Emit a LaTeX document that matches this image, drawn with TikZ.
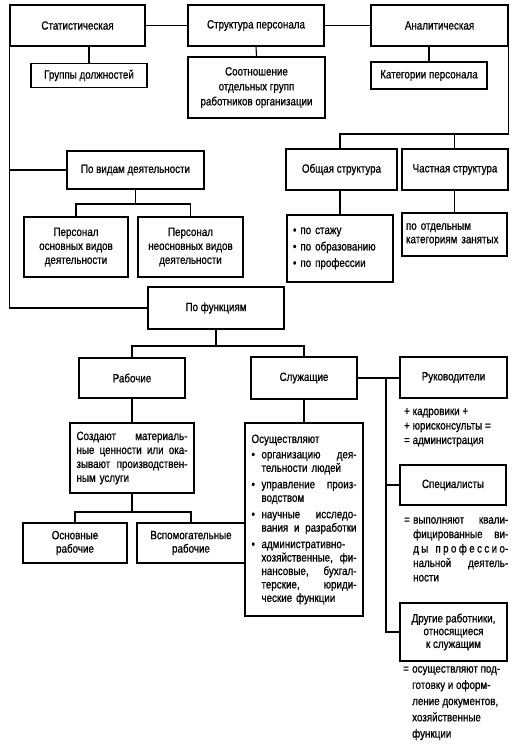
\documentclass[tikz,border=0pt]{standalone}
\usepackage{fontspec}
\setmainfont[FakeStretch=0.82,FakeBold=0.8]{Liberation Sans}
\newcommand\fsz{\fontsize{12}{14}\selectfont}
\newcommand\jl[2]{\leavevmode\hbox to #1{#2}}
\begin{document}
\begin{tikzpicture}[x=1bp,y=-1bp]
\tikzset{
  box/.style={draw, line width=1.1bp, inner sep=0pt, align=center, font=\fsz},
  ln/.style={line width=1.1bp},
  txt/.style={inner sep=0pt, align=left, font=\fsz},
}
\fill[white] (0,0) rectangle (515,745);
\useasboundingbox (0,0) rectangle (515,745);

\node[box, minimum width=135bp, minimum height=41bp] (stat) at (77.5,25.5) {Статистическая};
\node[box, minimum width=136bp, minimum height=41bp] (struct) at (256,25.5) {Структура персонала};
\node[box, minimum width=137bp, minimum height=41bp] (anal) at (439.5,25.5) {Аналитическая};
\node[box, minimum width=116bp, minimum height=24bp] (grp) at (89,75.5) {Группы должностей};
\node[box, minimum width=137bp, minimum height=61bp, font=\fontsize{12}{15}\selectfont] (sootn) at (256.5,87.5) {Соотношение\\отдельных групп\\работников организации};
\node[box, minimum width=116bp, minimum height=27bp] (kateg) at (429,75.5) {Категории персонала};
\node[box, minimum width=137bp, minimum height=38bp] (vidy) at (135.5,170) {По видам деятельности};
\node[box, minimum width=104bp, minimum height=60bp] (pers1) at (76,247) {Персонал\\основных видов\\деятельности};
\node[box, minimum width=105bp, minimum height=60bp] (pers2) at (190.5,247) {Персонал\\неосновных видов\\деятельности};
\node[box, minimum width=111bp, minimum height=41bp] (obsh) at (341.5,169.5) {Общая структура};
\node[box, minimum width=106bp, minimum height=41bp] (chast) at (455,169.5) {Частная структура};
\node[box, minimum width=106bp, minimum height=67bp, text width=94bp, align=left, font=\fontsize{12}{16.5}\selectfont] (obshl) at (340,248.5) {• по стажу\\• по образованию\\• по профессии};
\node[box, minimum width=105bp, minimum height=43bp, text width=97bp, align=left, font=\fontsize{12}{13.5}\selectfont] (chastl) at (454.5,234.5) {по отдельным\\категориям занятых};

\node[box, minimum width=136bp, minimum height=42bp] (func) at (216,308) {По функциям};
\node[box, minimum width=106bp, minimum height=40bp] (rab) at (132,378) {Рабочие};
\node[box, minimum width=106bp, minimum height=42bp] (sluzh) at (304,378) {Служащие};
\node[box, minimum width=107bp, minimum height=41bp] (ruk) at (453.5,377.5) {Руководители};

\node[box, minimum width=124bp, minimum height=70bp, text width=111bp, align=left] (sozd) at (132,458)
  {\jl{111bp}{Создают\hfill материаль-}\\\jl{111bp}{ные\hfill ценности\hfill или\hfill ока-}\\\jl{111bp}{зывают\hfill производствен-}\\ным услуги};
\node[box, minimum width=104bp, minimum height=40bp, font=\fontsize{12}{13.5}\selectfont] (osn) at (75,543) {Основные\\рабочие};
\node[box, minimum width=108bp, minimum height=40bp, font=\fontsize{12}{13.5}\selectfont] (vsp) at (191,543) {Вспомогательные\\рабочие};

\node[box, minimum width=118bp, minimum height=193bp, text width=105bp, align=left, font=\fontsize{12}{13.5}\selectfont] (osush) at (304,519.5)
  {Осуществляют\\[2bp]
   \makebox[10bp][l]{•}\jl{95bp}{организацию\hfill дея-}\\
   \hspace*{10bp}тельности людей\\[3bp]
   \makebox[10bp][l]{•}\jl{95bp}{управление\hfill произ-}\\
   \hspace*{10bp}водством\\[3bp]
   \makebox[10bp][l]{•}\jl{95bp}{научные\hfill исследо-}\\
   \hspace*{10bp}\jl{95bp}{вания\hfill и\hfill разработки}\\[3bp]
   \makebox[10bp][l]{•}\jl{95bp}{административно-\hfill}\\
   \hspace*{10bp}\jl{95bp}{хозяйственные,\hfill фи-}\\
   \hspace*{10bp}\jl{95bp}{нансовые,\hfill бухгал-}\\
   \hspace*{10bp}\jl{95bp}{терские,\hfill юриди-}\\
   \hspace*{10bp}ческие функции};

\node[box, minimum width=106bp, minimum height=40bp] (spec) at (453,485) {Специалисты};
\node[box, minimum width=107bp, minimum height=58bp, font=\fontsize{12}{12.8}\selectfont] (drug) at (453.5,632) {Другие работники,\\относящиеся\\к служащим};

\node[txt, anchor=north west, font=\fontsize{12}{14.5}\selectfont] (rukt) at (404,408) {+ кадровики +\\+ юрисконсульты =\\= администрация};
\node[txt, anchor=north west, text width=104bp, font=\fontsize{12}{14.5}\selectfont] (spect) at (404,517)
  {\makebox[9bp][l]{=}\jl{95bp}{выполняют\hfill квали-}\\
   \hspace*{9bp}\jl{95bp}{фицированные\hfill ви-}\\
   \hspace*{9bp}\hbox to 95bp{д\hfil ы\hfil\hfil\hfil п\hfil р\hfil о\hfil ф\hfil е\hfil с\hfil с\hfil и\hfil о-}\\
   \hspace*{9bp}\jl{95bp}{нальной\hfill деятель-}\\
   \hspace*{9bp}ности};
\node[txt, anchor=north west, font=\fontsize{12}{16.3}\selectfont] (drugt) at (403,666)
  {\makebox[9bp][l]{=}осуществляют под-\\
   \hspace*{9bp}готовку и оформ-\\
   \hspace*{9bp}ление документов,\\
   \hspace*{9bp}хозяйственные\\
   \hspace*{9bp}функции};

% connectors
\draw[ln] (stat.east) -- (struct.west);
\draw[ln] (struct.east) -- (anal.west);
\draw[ln] (grp.north) -- (grp.north |- stat.south);
\draw[ln] (struct.south) -- (sootn.north);
\draw[ln] (kateg.north) -- (kateg.north |- anal.south);
\draw[ln] (stat.south west) |- (func.west);
\draw[ln] (vidy.west) -- (vidy.west -| stat.south west);
\coordinate (abus) at (0,134);
\draw[ln] (anal.south east) |- (abus -| obshl.north) -- (obsh.north -| obshl.north);
\draw[ln] (chastl.north |- chast.north) -- (chastl.north |- abus);
\draw[ln] (obshl.north) -- (obshl.north |- obsh.south);
\draw[ln] (chastl.north) -- (chastl.north |- chast.south);
\coordinate (vbus) at (0,204);
\draw[ln] (vidy.south) -- (vidy.south |- vbus);
\draw[ln] (pers1.north) |- (vbus -| pers2.north) -- (pers2.north);
\coordinate (fbus) at (0,346);
\draw[ln] (func.south) -- (func.south |- fbus);
\draw[ln] (rab.north) |- (fbus -| sluzh.north) -- (sluzh.north);
\draw[ln] (rab.south) -- (sozd.north);
\coordinate (sbus) at (0,512);
\draw[ln] (sozd.south) -- (sozd.south |- sbus);
\draw[ln] (osn.north) |- (sbus -| vsp.north) -- (vsp.north);
\draw[ln] (sluzh.south) -- (osush.north);
\draw[ln] (sluzh.east) -- (sluzh.east -| ruk.west);
\coordinate (rv) at (386,378);
\draw[ln] (rv) |- (drug.west);
\draw[ln] (spec.west) -- (spec.west -| rv);
\end{tikzpicture}
\end{document}
